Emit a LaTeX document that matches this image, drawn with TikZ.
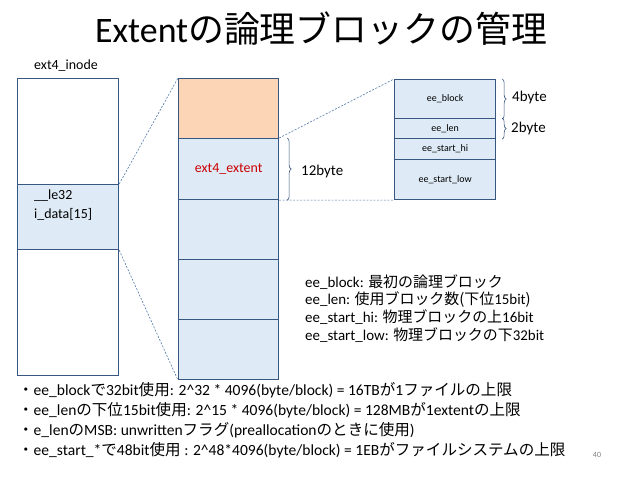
\documentclass[tikz,border=0pt]{standalone}
\usepackage{fontspec}
\setmainfont{Carlito}
\newfontfamily\jp{Noto Sans CJK JP}
\newcommand{\J}[1]{{\jp #1}}
\usetikzlibrary{decorations.pathreplacing}
\definecolor{cellblue}{RGB}{222,235,247}
\definecolor{cellorange}{RGB}{251,213,181}
\definecolor{edge}{RGB}{56,87,128}
\definecolor{dash}{RGB}{80,120,170}
\tikzset{cell/.style={draw=edge,line width=1.2pt,fill=cellblue,anchor=north west,inner sep=0pt},
 dl/.style={draw=dash,dash pattern=on 2pt off 1.5pt,line width=0.6pt},
 br/.style={decorate,decoration={brace,amplitude=4pt},draw=edge,line width=0.6pt},
 txt/.style={anchor=west,inner sep=0pt,font=\fontsize{14}{16}\selectfont},
 lbl/.style={anchor=west,inner sep=0pt,font=\fontsize{15}{16}\selectfont}}
\begin{document}
\begin{tikzpicture}[x=1bp,y=-1bp]
\useasboundingbox (0,0) rectangle (638,479);
\node (title) at (321,29) {\fontsize{36}{40}\selectfont Extent\J{の論理ブロックの管理}};
\node[txt] (inl) at (34,66) {ext4\_inode};
\node[cell,fill=white,minimum width=101bp,minimum height=297bp] (inode) at (17,78) {};
\node[cell,minimum width=101bp,minimum height=65bp] (le) at (17,184) {};
\node[anchor=north west,align=left,inner sep=0pt,font=\fontsize{14}{19}\selectfont] (let) at (34,190) {\_\_le32\\i\_data[15]};
% middle column
\node[cell,fill=cellorange,minimum width=100bp,minimum height=60bp] (m0) at (178,78) {};
\node[cell,minimum width=100bp,minimum height=61bp,text=red!80!black,font=\fontsize{14}{16}\selectfont] (m1) at (178,138) {ext4\_extent};
\node[cell,minimum width=100bp,minimum height=60bp] (m2) at (178,199) {};
\node[cell,minimum width=100bp,minimum height=60bp] (m3) at (178,259) {};
\node[cell,minimum width=100bp,minimum height=60bp] (m4) at (178,319) {};
% right table
\node[cell,minimum width=101bp,minimum height=39bp,font=\fontsize{10}{12}\selectfont] (r1) at (394,79) {ee\_block};
\node[cell,minimum width=101bp,minimum height=20bp,font=\fontsize{10}{12}\selectfont] (r2) at (394,118) {ee\_len};
\node[cell,minimum width=101bp,minimum height=21bp,font=\fontsize{10}{12}\selectfont] (r3) at (394,138) {ee\_start\_hi};
\node[cell,minimum width=101bp,minimum height=40bp,font=\fontsize{10}{12}\selectfont] (r4) at (394,159) {ee\_start\_low};
% dashed connectors
\draw[dl] (le.north east) -- (m0.north west);
\draw[dl] (le.south east) -- (m4.south west);
\draw[dl] (m1.north east) -- (r1.north west);
\draw[dl] (m1.south east) -- (r4.south west);
% braces
\draw[br] ([xshift=8bp]m1.north east) -- ([xshift=8bp]m1.south east);
\node[lbl] (l12) at (301,172) {12byte};
\draw[br] ([xshift=6bp]r1.north east) -- ([xshift=6bp]r1.south east);
\node[lbl] (l4) at (512,98) {4byte};
\draw[br] ([xshift=6bp]r2.north east) -- ([xshift=6bp]r2.south east);
\node[lbl] (l2) at (511,129) {2byte};
% notes
\node[anchor=north west,align=left,inner sep=0pt,font=\fontsize{15}{18}\selectfont] (notes) at (305,274)
 {ee\_block: \J{最初の論理ブロック}\\
  ee\_len: \J{使用ブロック数(下位}15bit\J{)}\\
  ee\_start\_hi: \J{物理ブロックの上}16bit\\
  ee\_start\_low: \J{物理ブロックの下}32bit};
\node[anchor=north west,align=left,inner sep=0pt,font=\fontsize{15.6}{20}\selectfont] (bottom) at (18,382)
 {\J{・}ee\_block\J{で}32bit\J{使用}: 2\^{}32 * 4096(byte/block) = 16TB\J{が}1\J{ファイルの上限}\\
  \J{・}ee\_len\J{の下位}15bit\J{使用}: 2\^{}15 * 4096(byte/block) = 128MB\J{が}1extent\J{の上限}\\
  \J{・}e\_len\J{の}MSB: unwritten\J{フラグ}(preallocation\J{のときに使用})\\
  \J{・}ee\_start\_*\J{で}48bit\J{使用} : 2\^{}48*4096(byte/block) = 1EB\J{がファイルシステムの上限}};
\node[font=\fontsize{8}{10}\selectfont,text=gray] (pg) at (597,455) {40};
\end{tikzpicture}
\end{document}
